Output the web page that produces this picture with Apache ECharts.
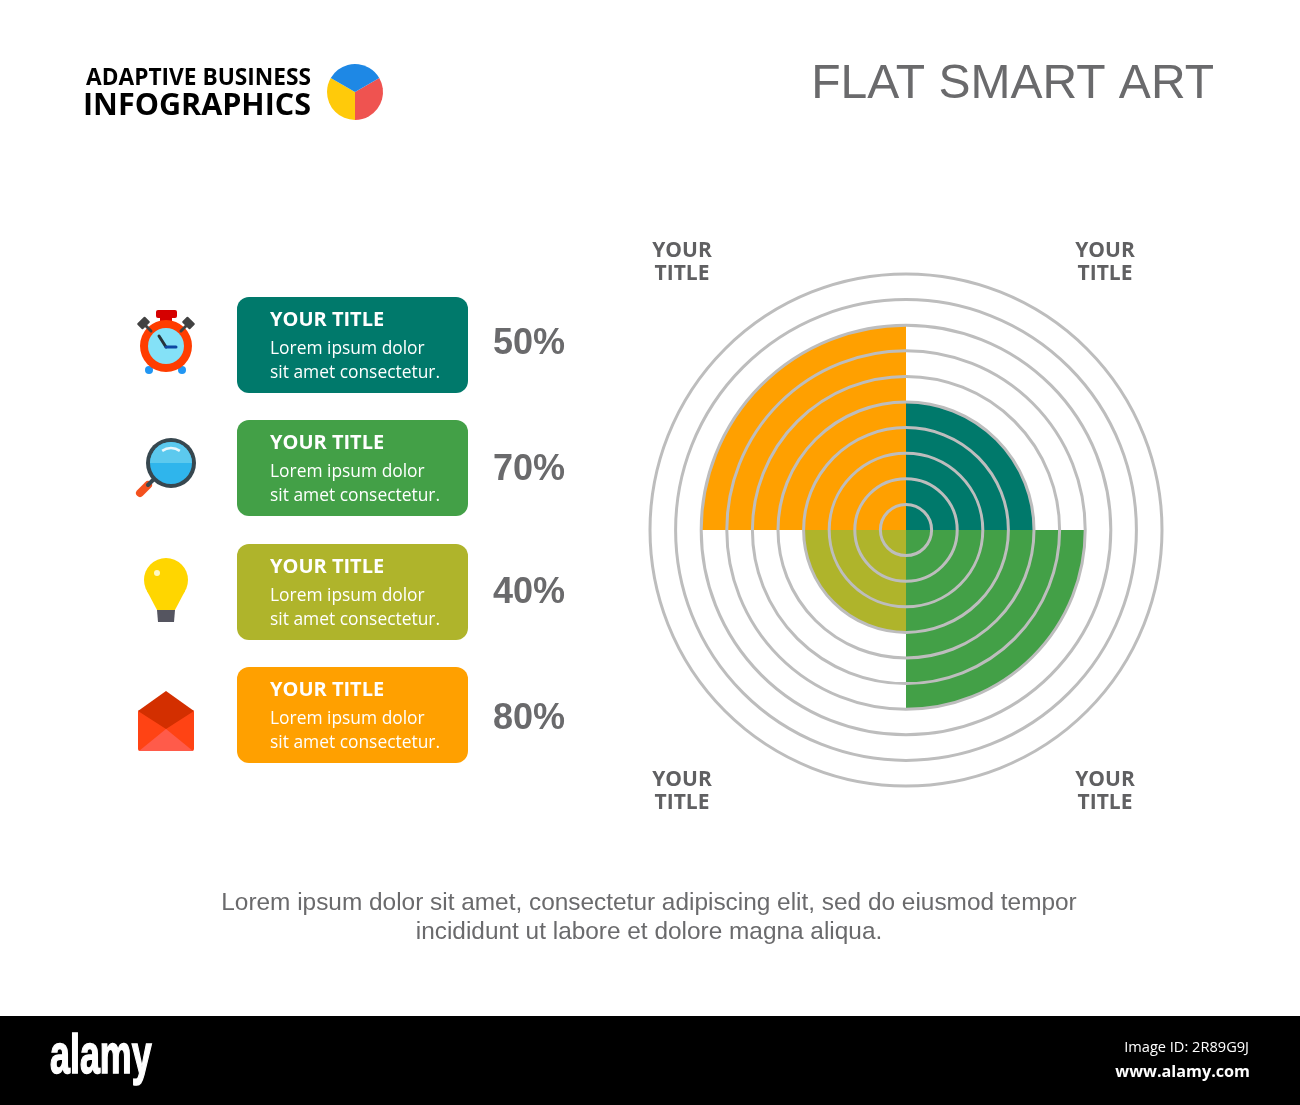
<!DOCTYPE html>
<html>
<head>
<meta charset="utf-8">
<title>Flat Smart Art</title>
<script src="https://cdn.jsdelivr.net/npm/echarts@6/dist/echarts.min.js"></script>
<style>
  html, body { margin: 0; padding: 0; background: #fff; }
  #chart { width: 1300px; height: 1105px; }
</style>
</head>
<body>
<div id="chart"></div>
<script>
// chart data
const quadrants = ['Your title 1', 'Your title 2', 'Your title 3', 'Your title 4'];
const percentValues = [50, 70, 40, 80];
const quadrantColors = ['#00796B', '#43A047', '#AFB42B', '#FFA000'];
const logoValues = [1, 1, 1];
const logoColors = ['#EF5350', '#FFCA0A', '#1E88E5'];

// texts
const boxTitle = 'YOUR TITLE';
const boxBody = ['Lorem ipsum dolor', 'sit amet consectetur.'];
const cornerLabel = ['YOUR', 'TITLE'];
const footNote = [
  'Lorem ipsum dolor sit amet, consectetur adipiscing elit, sed do eiusmod tempor',
  'incididunt ut labore et dolore magna aliqua.'
];

const GRAY = '#6a6a6c';
const SANS = '"Liberation Sans", Arial, sans-serif';
const OPEN = '"Open Sans", sans-serif';

const myChart = echarts.init(document.getElementById('chart'), null, { renderer: 'canvas' });

function txt(x, y, text, size, color, opts) {
  const o = opts || {};
  const style = {
    text: text, fill: color,
    font: (o.weight || 'normal') + ' ' + size + 'px ' + (o.family || OPEN),
    textAlign: o.align || 'left', textVerticalAlign: 'middle'
  };
  if (o.stroke) {
    style.stroke = color;
    style.lineWidth = o.stroke;
  }
  return { type: 'text', x: x, y: y, scaleX: o.scaleX || 1, z: 20, style: style };
}
function poly(points, fill) {
  return { type: 'polygon', z: 15, shape: { points: points }, style: { fill: fill } };
}
function circle(cx, cy, r, fill) {
  return { type: 'circle', z: 15, shape: { cx: cx, cy: cy, r: r }, style: { fill: fill } };
}
function box(x, y, w, h, r, fill, rotation) {
  const el = { type: 'rect', z: 15, shape: { x: x, y: y, width: w, height: h, r: r }, style: { fill: fill } };
  if (rotation) {
    el.rotation = rotation;
    el.originX = x + w / 2;
    el.originY = y + h / 2;
  }
  return el;
}
function stroke(x1, y1, x2, y2, color, width) {
  return {
    type: 'line', z: 16, shape: { x1: x1, y1: y1, x2: x2, y2: y2 },
    style: { stroke: color, lineWidth: width, lineCap: 'round' }
  };
}

const clockIcon = [
  box(156, 310, 21, 8, 2, '#D50000'),
  box(160, 316, 12, 7, 0, '#D50000'),
  stroke(143, 323, 151, 331, '#424242', 3),
  stroke(189, 323, 181, 331, '#424242', 3),
  box(138, 319, 11, 8, 1, '#424242', Math.PI / 4),
  box(183, 319, 11, 8, 1, '#424242', -Math.PI / 4),
  circle(149, 370, 4, '#2196F3'),
  circle(182, 370, 4, '#2196F3'),
  circle(166, 346, 26, '#FF3D00'),
  circle(166, 346, 18, '#84E1F7'),
  stroke(166, 347, 159, 336, '#263238', 3),
  stroke(166, 347, 176, 347, '#0D47A1', 3)
];

const searchIcon = [
  stroke(140, 493, 148, 485, '#F4511E', 8),
  stroke(148, 485, 153, 480, '#37474F', 4),
  circle(171, 463, 25, '#37474F'),
  circle(171, 463, 21, '#2FB5EC'),
  {
    type: 'sector', z: 15,
    shape: { cx: 171, cy: 463, r: 21, r0: 0, startAngle: Math.PI, endAngle: Math.PI * 2 },
    style: { fill: '#5CC9EE' }
  },
  {
    type: 'arc', z: 16,
    shape: { cx: 171, cy: 463, r: 15, startAngle: Math.PI * 1.3, endAngle: Math.PI * 1.7 },
    style: { stroke: '#E8F7FD', lineWidth: 2.5, fill: 'none' }
  }
];

const bulbIcon = [
  circle(166, 580, 22, '#FFD600'),
  poly([[147, 591], [185, 591], [175, 610], [157, 610]], '#FFD600'),
  poly([[157, 610], [175, 610], [174, 622], [158, 622]], '#555560'),
  circle(157, 573, 3, '#FFF9C4')
];

const mailIcon = [
  box(138, 710, 56, 41, 2, '#FF4314'),
  poly([[138, 711], [166, 691], [194, 711], [166, 729]], '#D32F00'),
  poly([[139, 751], [166, 729], [193, 751]], '#FF5B4A')
];

const rowY = [297, 420, 544, 667];
const percentY = [344, 470, 593, 719];

const rows = [];
rowY.forEach(function (y, i) {
  rows.push(box(237, y, 231, 96, 12, quadrantColors[i]));
  rows.push(txt(270, y + 23, boxTitle, 20, '#fff', { weight: 'bold' }));
  rows.push(txt(270, y + 52, boxBody[0], 17.4, '#fff'));
  rows.push(txt(270, y + 76, boxBody[1], 17.4, '#fff'));
  rows.push(txt(493, percentY[i], percentValues[i] + '%', 36, GRAY, { weight: 'bold', family: SANS }));
});

// corner captions around the rings
const corners = [];
[[682, 251], [1105, 251], [682, 780], [1105, 780]].forEach(function (p) {
  corners.push(txt(p[0], p[1], cornerLabel[0], 21, '#606062', { weight: 'bold', align: 'center' }));
  corners.push(txt(p[0], p[1] + 23, cornerLabel[1], 21, '#606062', { weight: 'bold', align: 'center' }));
});

const option = {
  animation: false,
  backgroundColor: '#fff',
  polar: { center: [906, 530], radius: 256 },
  angleAxis: {
    type: 'category',
    data: quadrants,
    startAngle: 90,
    axisLine: { show: false },
    axisTick: { show: false },
    axisLabel: { show: false },
    splitLine: { show: false }
  },
  radiusAxis: {
    min: 0,
    max: 100,
    interval: 10,
    z: 10, // 圆环画在扇形上面
    axisLine: { show: false },
    axisTick: { show: false },
    axisLabel: { show: false },
    splitLine: { show: true, lineStyle: { color: '#bdbdbd', width: 3 } }
  },
  series: [
    {
      type: 'bar',
      coordinateSystem: 'polar',
      barWidth: '100%',
      barCategoryGap: '0%',
      silent: true,
      data: percentValues.map(function (v, i) {
        return { value: v, itemStyle: { color: quadrantColors[i] } };
      })
    },
    {
      type: 'pie',
      center: [355, 92],
      radius: [0, 28],
      startAngle: 30,
      silent: true,
      label: { show: false },
      labelLine: { show: false },
      data: logoValues.map(function (v, i) {
        return { value: v, itemStyle: { color: logoColors[i] } };
      })
    }
  ],
  graphic: { elements: [].concat(
    [
      txt(311, 79, 'ADAPTIVE BUSINESS', 22.7, '#000', { weight: 'bold', align: 'right' }),
      txt(311, 106, 'INFOGRAPHICS', 30.5, '#000', { weight: 'bold', align: 'right' }),
      txt(1214, 85, 'FLAT SMART ART', 48, GRAY, { family: SANS, align: 'right' }),
      txt(649, 903, footNote[0], 24.4, GRAY, { family: SANS, align: 'center' }),
      txt(649, 932, footNote[1], 24.4, GRAY, { family: SANS, align: 'center' })
    ],
    clockIcon, searchIcon, bulbIcon, mailIcon, rows, corners,
    [
      { type: 'rect', z: 14, shape: { x: 0, y: 1016, width: 1300, height: 89 }, style: { fill: '#000' } },
      txt(50, 1058, 'alamy', 56, '#fff', { weight: 'bold', family: SANS, scaleX: 0.64, stroke: 1.6 }),
      txt(1249, 1048, 'Image ID: 2R89G9J', 14.6, '#fff', { align: 'right' }),
      txt(1250, 1072, 'www.alamy.com', 16.2, '#fff', { weight: 'bold', align: 'right' })
    ]
  ) }
};

myChart.setOption(option);
</script>
</body>
</html>
